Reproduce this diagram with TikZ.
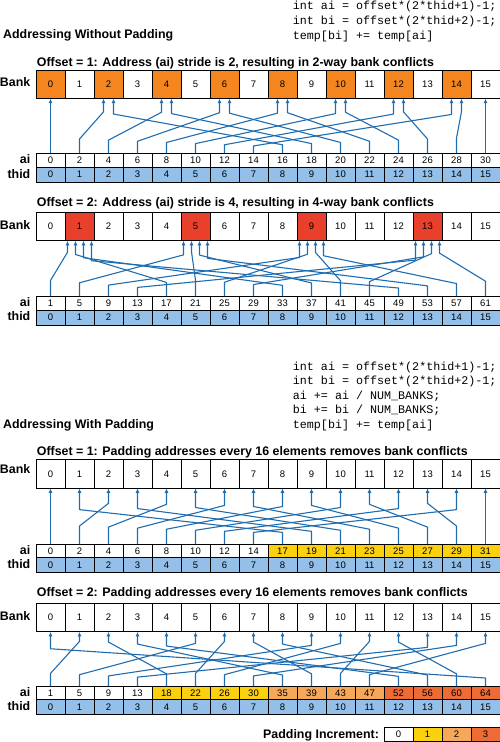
\documentclass[tikz,border=0pt]{standalone}
\usepackage{fontspec}
\setmainfont{Liberation Sans}
\setmonofont{Liberation Mono}
\usetikzlibrary{arrows.meta,calc}
\definecolor{bankorange}{HTML}{F5861F}
\definecolor{bankred}{HTML}{E8402A}
\definecolor{thidblue}{HTML}{93BFE8}
\definecolor{padyellow}{HTML}{FAD00F}
\definecolor{padlorange}{HTML}{F6A85A}
\definecolor{padorange}{HTML}{EF6B36}
\definecolor{arrowblue}{HTML}{1F6DB0}
\tikzset{
  cell/.style={draw=black, line width=0.9pt, inner sep=0pt, outer sep=0pt, minimum width=29pt, font=\fontsize{9.5}{10}\selectfont},
  bankcell/.style={cell, minimum height=28.5pt},
  aicell/.style={cell, minimum height=14pt},
  thidcell/.style={cell, minimum height=15pt, fill=thidblue},
  legcell/.style={cell, minimum height=13.5pt},
  rowlabel/.style={anchor=base east, inner sep=0pt, font=\bfseries\fontsize{12.4}{14}\selectfont},
  paneltitle/.style={anchor=base west, inner sep=0pt, font=\bfseries\fontsize{12.4}{14}\selectfont},
  codeline/.style={anchor=base west, inner sep=0pt, font=\ttfamily\fontsize{11.7}{14}\selectfont},
  conn/.style={draw=arrowblue, line width=1.1pt, -{Latex[length=4.5pt,width=3.8pt]}, line join=round},
}
\begin{document}
\begin{tikzpicture}[x=1pt,y=-1pt]
\useasboundingbox (0,0) rectangle (500,742);

% ---------- code block 1 ----------
\node[codeline] (c1a) at (292.7,9) {int ai = offset*(2*thid+1)-1;};
\node[codeline] (c1b) at (292.7,24) {int bi = offset*(2*thid+2)-1;};
\node[codeline] (c1c) at (292.7,39) {temp[bi] += temp[ai]};
\node[paneltitle] (h1) at (3,38.9) {Addressing Without Padding};

% ---------- panel 1 ----------
\node[paneltitle] (p1title) at (36.7,66.2) {Offset = 1: Address (ai) stride is 2, resulting in 2-way bank conflicts};
\node[rowlabel] (p1bank) at (30.5,86.5) {Bank};
\node[rowlabel] (p1ai) at (30.5,163) {ai};
\node[rowlabel] (p1thid) at (30.5,178) {thid};
\foreach \ti in {0,...,15} {
  \pgfmathtruncatemacro{\aival}{2*\ti}
  \pgfmathsetmacro{\xc}{50.5+29*\ti}
  \ifodd\ti \def\bfill{white}\else\def\bfill{bankorange}\fi
  \node[bankcell, fill=\bfill] (b1-\ti) at (\xc,84.25) {\ti};
  \node[aicell] (a1-\ti) at (\xc,160) {\aival};
  \node[thidcell] (t1-\ti) at (\xc,174.5) {\ti};
}
\foreach \ti in {0,...,15} {
  \ifnum\ti=0 \def\bk{0}\def\off{0}\else
    \ifnum\ti=15 \def\bk{15}\def\off{0}\else
      \ifnum\ti<8 \pgfmathtruncatemacro{\bk}{2*\ti}\def\off{-5}\else
        \pgfmathtruncatemacro{\bk}{2*(\ti-7)}\def\off{5}\fi
    \fi
  \fi
  \pgfmathsetmacro{\ddx}{abs(29*(\bk-\ti)+\off)}
  \pgfmathsetmacro{\rr}{min(\ddx/200,1)}
  \pgfmathsetmacro{\lowl}{15-8*\rr}
  \pgfmathsetmacro{\upl}{13+3*\rr}
  \draw[conn] (a1-\ti.north) -- ++(0,-\lowl) -- ($(b1-\bk.south)+(\off,\upl)$) -- ($(b1-\bk.south)+(\off,0)$);
}

% ---------- panel 2 ----------
\node[paneltitle] (p2title) at (36.7,206.2) {Offset = 2: Address (ai) stride is 4, resulting in 4-way bank conflicts};
\node[rowlabel] (p2bank) at (30.5,229) {Bank};
\node[rowlabel] (p2ai) at (30.5,306) {ai};
\node[rowlabel] (p2thid) at (30.5,320.5) {thid};
\foreach \ti in {0,...,15} {
  \pgfmathtruncatemacro{\aival}{4*\ti+1}
  \pgfmathsetmacro{\xc}{50.5+29*\ti}
  \pgfmathtruncatemacro{\md}{mod(\ti,4)}
  \ifnum\md=1 \def\bfill{bankred}\else\def\bfill{white}\fi
  \node[bankcell, fill=\bfill] (b2-\ti) at (\xc,226.5) {\ti};
  \node[aicell] (a2-\ti) at (\xc,303) {\aival};
  \node[thidcell] (t2-\ti) at (\xc,317.5) {\ti};
}
\foreach \ti in {0,...,15} {
  \pgfmathtruncatemacro{\bk}{mod(4*\ti+1,16)}
  \pgfmathsetmacro{\off}{-12+8*floor(\ti/4)}
  \pgfmathsetmacro{\ddx}{abs(29*(\bk-\ti)+\off)}
  \pgfmathsetmacro{\rr}{min(\ddx/300,1)}
  \pgfmathsetmacro{\lowl}{16-8*\rr}
  \pgfmathsetmacro{\upl}{11+9*\rr}
  \draw[conn] (a2-\ti.north) -- ++(0,-\lowl) -- ($(b2-\bk.south)+(\off,\upl)$) -- ($(b2-\bk.south)+(\off,0)$);
}

% ---------- code block 2 ----------
\node[codeline] (c2a) at (292.7,370) {int ai = offset*(2*thid+1)-1;};
\node[codeline] (c2b) at (292.7,384.5) {int bi = offset*(2*thid+2)-1;};
\node[codeline] (c2c) at (292.7,399) {ai += ai / NUM\_BANKS;};
\node[codeline] (c2d) at (292.7,413.5) {bi += bi / NUM\_BANKS;};
\node[codeline] (c2e) at (292.7,428) {temp[bi] += temp[ai]};
\node[paneltitle] (h2) at (3,428.8) {Addressing With Padding};

% ---------- panel 3 ----------
\node[paneltitle] (p3title) at (36.7,455.6) {Offset = 1: Padding addresses every 16 elements removes bank conflicts};
\node[rowlabel] (p3bank) at (30.5,473) {Bank};
\node[rowlabel] (p3ai) at (30.5,554) {ai};
\node[rowlabel] (p3thid) at (30.5,568.5) {thid};
\foreach \ti in {0,...,15} {
  \pgfmathtruncatemacro{\aival}{2*\ti+floor(\ti/8)}
  \pgfmathsetmacro{\xc}{50.5+29*\ti}
  \ifnum\ti<8 \def\afill{white}\else\def\afill{padyellow}\fi
  \node[bankcell] (b3-\ti) at (\xc,474) {\ti};
  \node[aicell, fill=\afill] (a3-\ti) at (\xc,551) {\aival};
  \node[thidcell] (t3-\ti) at (\xc,565) {\ti};
}
\foreach \ti in {0,...,15} {
  \pgfmathtruncatemacro{\bk}{mod(2*\ti+floor(\ti/8),16)}
  \pgfmathsetmacro{\ddx}{abs(29*(\bk-\ti))}
  \pgfmathsetmacro{\rr}{min(\ddx/220,1)}
  \pgfmathsetmacro{\lowl}{19-8*\rr}
  \pgfmathsetmacro{\upl}{14+8*\rr}
  \draw[conn] (a3-\ti.north) -- ++(0,-\lowl) -- ($(b3-\bk.south)+(0,\upl)$) -- (b3-\bk.south);
}

% ---------- panel 4 ----------
\node[paneltitle] (p4title) at (36.7,596.5) {Offset = 2: Padding addresses every 16 elements removes bank conflicts};
\node[rowlabel] (p4bank) at (30.5,620) {Bank};
\node[rowlabel] (p4ai) at (30.5,696) {ai};
\node[rowlabel] (p4thid) at (30.5,710.5) {thid};
\foreach \ti in {0,...,15} {
  \pgfmathtruncatemacro{\aival}{4*\ti+1+floor(\ti/4)}
  \pgfmathsetmacro{\xc}{50.5+29*\ti}
  \pgfmathtruncatemacro{\grp}{floor(\ti/4)}
  \ifcase\grp \def\afill{white}\or\def\afill{padyellow}\or\def\afill{padlorange}\else\def\afill{padorange}\fi
  \node[bankcell] (b4-\ti) at (\xc,617.5) {\ti};
  \node[aicell, fill=\afill] (a4-\ti) at (\xc,693) {\aival};
  \node[thidcell] (t4-\ti) at (\xc,707) {\ti};
}
\foreach \ti in {0,...,15} {
  \pgfmathtruncatemacro{\bk}{mod(4*\ti+1+floor(\ti/4),16)}
  \pgfmathsetmacro{\ddx}{abs(29*(\bk-\ti))}
  \pgfmathsetmacro{\rr}{min(\ddx/350,1)}
  \pgfmathsetmacro{\lowl}{13-5*\rr}
  \pgfmathsetmacro{\upl}{9+8*\rr}
  \draw[conn] (a4-\ti.north) -- ++(0,-\lowl) -- ($(b4-\bk.south)+(0,\upl)$) -- (b4-\bk.south);
}

% ---------- legend ----------
\node[paneltitle] (legtext) at (263,738.2) {Padding Increment:};
\foreach \kk/\cc in {0/white,1/padyellow,2/padlorange,3/padorange}
  \node[legcell, fill=\cc] (leg-\kk) at (398.5+29*\kk,734.25) {\kk};
\end{tikzpicture}
\end{document}
